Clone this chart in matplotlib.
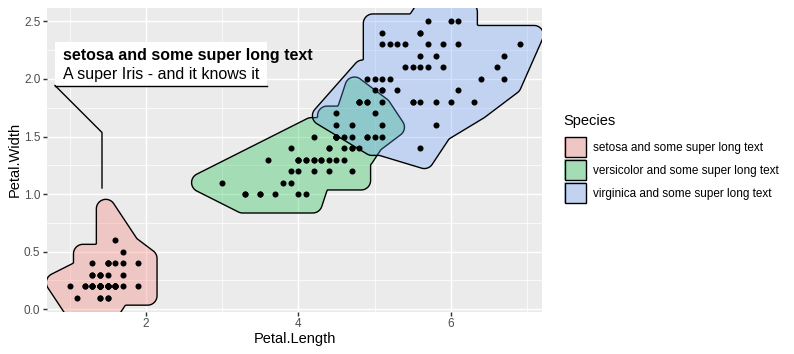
import numpy as np
import matplotlib
matplotlib.use('Agg')
import matplotlib.pyplot as plt
from matplotlib.path import Path
from matplotlib.patches import Rectangle
from collections import deque

plt.rcParams['font.family'] = ['Liberation Sans', 'DejaVu Sans']

# Datos: iris (largo y ancho del pétalo por especie)
especies = ['setosa', 'versicolor', 'virginica']
etiquetas = [e + ' and some super long text' for e in especies]
colores = ['#F8766D', '#00BA38', '#619CFF']

largo_setosa = [1.4, 1.4, 1.3, 1.5, 1.4, 1.7, 1.4, 1.5, 1.4, 1.5, 1.5, 1.6, 1.4, 1.1, 1.2, 1.5,
                1.3, 1.4, 1.7, 1.5, 1.7, 1.5, 1.0, 1.7, 1.9, 1.6, 1.6, 1.5, 1.4, 1.6, 1.6, 1.5,
                1.5, 1.4, 1.5, 1.2, 1.3, 1.4, 1.3, 1.5, 1.3, 1.3, 1.3, 1.6, 1.9, 1.4, 1.6, 1.4,
                1.5, 1.4]
ancho_setosa = [0.2, 0.2, 0.2, 0.2, 0.2, 0.4, 0.3, 0.2, 0.2, 0.1, 0.2, 0.2, 0.1, 0.1, 0.2, 0.4,
                0.4, 0.3, 0.3, 0.3, 0.2, 0.4, 0.2, 0.5, 0.2, 0.2, 0.4, 0.2, 0.2, 0.2, 0.2, 0.4,
                0.1, 0.2, 0.2, 0.2, 0.2, 0.1, 0.2, 0.2, 0.3, 0.3, 0.2, 0.6, 0.4, 0.3, 0.2, 0.2,
                0.2, 0.2]
largo_versicolor = [4.7, 4.5, 4.9, 4.0, 4.6, 4.5, 4.7, 3.3, 4.6, 3.9, 3.5, 4.2, 4.0, 4.7, 3.6, 4.4,
                    4.5, 4.1, 4.5, 3.9, 4.8, 4.0, 4.9, 4.7, 4.3, 4.4, 4.8, 5.0, 4.5, 3.5, 3.8, 3.7,
                    3.9, 5.1, 4.5, 4.5, 4.7, 4.4, 4.1, 4.0, 4.4, 4.6, 4.0, 3.3, 4.2, 4.2, 4.2, 4.3,
                    3.0, 4.1]
ancho_versicolor = [1.4, 1.5, 1.5, 1.3, 1.5, 1.3, 1.6, 1.0, 1.3, 1.4, 1.0, 1.5, 1.0, 1.4, 1.3, 1.4,
                    1.5, 1.0, 1.5, 1.1, 1.8, 1.3, 1.5, 1.2, 1.3, 1.4, 1.4, 1.7, 1.5, 1.0, 1.1, 1.0,
                    1.2, 1.6, 1.5, 1.6, 1.5, 1.3, 1.3, 1.3, 1.2, 1.4, 1.2, 1.0, 1.3, 1.2, 1.3, 1.3,
                    1.1, 1.3]
largo_virginica = [6.0, 5.1, 5.9, 5.6, 5.8, 6.6, 4.5, 6.3, 5.8, 6.1, 5.1, 5.3, 5.5, 5.0, 5.1, 5.3,
                   5.5, 6.7, 6.9, 5.0, 5.7, 4.9, 6.7, 4.9, 5.7, 6.0, 4.8, 4.9, 5.6, 5.8, 6.1, 6.4,
                   5.6, 5.1, 5.6, 6.1, 5.6, 5.5, 4.8, 5.4, 5.6, 5.1, 5.1, 5.9, 5.7, 5.2, 5.0, 5.2,
                   5.4, 5.1]
ancho_virginica = [2.5, 1.9, 2.1, 1.8, 2.2, 2.1, 1.7, 1.8, 1.8, 2.5, 2.0, 1.9, 2.1, 2.0, 2.4, 2.3,
                   1.8, 2.2, 2.3, 1.5, 2.3, 2.0, 2.0, 1.8, 2.1, 1.8, 1.8, 1.8, 2.1, 1.6, 1.9, 2.0,
                   2.2, 1.5, 1.4, 2.3, 2.4, 1.8, 1.8, 2.1, 2.4, 2.3, 1.9, 2.3, 2.5, 2.3, 1.9, 2.0,
                   2.3, 1.8]

largos = [largo_setosa, largo_versicolor, largo_virginica]
anchos = [ancho_setosa, ancho_versicolor, ancho_virginica]

# Parámetros de la envolvente (en píxeles, 96 dpi)
mm = 96 / 25.4
expand = 5 * mm
radio = 2.5 * mm
concavidad = 2.0


# ---------------- concaveman ----------------
def orient(p, q, r):
    return (q[1] - p[1]) * (r[0] - q[0]) - (q[0] - p[0]) * (r[1] - q[1])


def sq_seg_dist(p, a, b):
    x, y = a
    dx, dy = b[0] - x, b[1] - y
    if dx != 0 or dy != 0:
        t = ((p[0] - x) * dx + (p[1] - y) * dy) / (dx * dx + dy * dy)
        if t > 1:
            x, y = b
        elif t > 0:
            x += dx * t
            y += dy * t
    dx, dy = p[0] - x, p[1] - y
    return dx * dx + dy * dy


def convexa(P):
    orden = sorted(range(len(P)), key=lambda i: (P[i][0], P[i][1]))

    def cr(o, a, b):
        return (P[a][0] - P[o][0]) * (P[b][1] - P[o][1]) - (P[a][1] - P[o][1]) * (P[b][0] - P[o][0])
    inf, sup = [], []
    for i in orden:
        while len(inf) >= 2 and cr(inf[-2], inf[-1], i) <= 0:
            inf.pop()
        inf.append(i)
    for i in reversed(orden):
        while len(sup) >= 2 and cr(sup[-2], sup[-1], i) <= 0:
            sup.pop()
        sup.append(i)
    return inf[:-1] + sup[:-1]


def concaveman(P, conc=2.0):
    hull = convexa(P)
    resto = set(range(len(P))) - set(hull)
    nxt, prv = {}, {}

    def insertar(p, prev):
        if prev is None:
            nxt[p] = p
            prv[p] = p
        else:
            nxt[p] = nxt[prev]
            prv[p] = prev
            prv[nxt[prev]] = p
            nxt[prev] = p
        return p

    last = None
    cola = deque()
    for h in hull:
        last = insertar(h, last)
        cola.append(last)

    def cruzan(i1, j1, i2, j2):
        if i1 == j2 or j1 == i2:
            return False
        p1, q1, p2, q2 = P[i1], P[j1], P[i2], P[j2]
        return ((orient(p1, q1, p2) > 0) != (orient(p1, q1, q2) > 0) and
                (orient(p2, q2, p1) > 0) != (orient(p2, q2, q1) > 0))

    def sin_cruces(a, b):
        s = last
        while True:
            if cruzan(s, nxt[s], a, b):
                return False
            s = nxt[s]
            if s == last:
                return True

    def candidato(a, b, c, d, maxd):
        cands = []
        for p in resto:
            dd = sq_seg_dist(P[p], P[b], P[c])
            if dd <= maxd:
                cands.append((dd, p))
        cands.sort()
        for dd, p in cands:
            d0 = sq_seg_dist(P[p], P[a], P[b])
            d1 = sq_seg_dist(P[p], P[c], P[d])
            if dd < d0 and dd < d1 and sin_cruces(b, p) and sin_cruces(c, p):
                return p
        return None

    sqc = conc * conc
    while cola:
        nodo = cola.popleft()
        a, b = nodo, nxt[nodo]
        sqlen = (P[a][0] - P[b][0]) ** 2 + (P[a][1] - P[b][1]) ** 2
        maxd = sqlen / sqc
        p = candidato(prv[a], a, b, nxt[b], maxd)
        if p is not None:
            da = (P[p][0] - P[a][0]) ** 2 + (P[p][1] - P[a][1]) ** 2
            db = (P[p][0] - P[b][0]) ** 2 + (P[p][1] - P[b][1]) ** 2
            if min(da, db) <= maxd:
                cola.append(nodo)
                cola.append(insertar(p, nodo))
                resto.discard(p)
    out = []
    s = last
    while True:
        out.append(P[s])
        s = nxt[s]
        if s == last:
            break
    return np.array(out)


# ---------------- expansión con esquinas redondeadas ----------------
def dist_segmentos(px, py, segs):
    d2 = np.full(px.shape, np.inf)
    for x0, y0, x1, y1 in segs:
        dx, dy = x1 - x0, y1 - y0
        l2 = dx * dx + dy * dy
        if l2 == 0:
            t = 0.0
        else:
            t = np.clip(((px - x0) * dx + (py - y0) * dy) / l2, 0, 1)
        ex = px - (x0 + t * dx)
        ey = py - (y0 + t * dy)
        d2 = np.minimum(d2, ex * ex + ey * ey)
    return np.sqrt(d2)


def campo_envolvente(H, a, r, paso=1.0):
    # orientación antihoraria
    area = np.sum(H[:, 0] * np.roll(H[:, 1], -1) - np.roll(H[:, 0], -1) * H[:, 1])
    if area < 0:
        H = H[::-1]
    k = len(H)
    d = np.roll(H, -1, axis=0) - H
    L = np.hypot(d[:, 0], d[:, 1])
    n = np.column_stack([d[:, 1], -d[:, 0]]) / L[:, None]
    polys = [H]
    for i in range(k):
        v0, v1 = H[i], H[(i + 1) % k]
        polys.append(np.array([v0, v1, v1 + a * n[i], v0 + a * n[i]]))
    for i in range(k):
        n1, n2 = n[i - 1], n[i]
        cr = d[i - 1, 0] * d[i, 1] - d[i - 1, 1] * d[i, 0]
        if cr > 0:
            m = H[i] + a * (n1 + n2) / (1 + n1 @ n2)
            polys.append(np.array([H[i], H[i] + a * n1, m, H[i] + a * n2]))
    todos = np.vstack(polys)
    lo = todos.min(0) - r - 6
    hi = todos.max(0) + r + 6
    gx = np.arange(lo[0], hi[0], paso)
    gy = np.arange(lo[1], hi[1], paso)
    GX, GY = np.meshgrid(gx, gy)
    pts = np.column_stack([GX.ravel(), GY.ravel()])
    dentro = np.zeros(len(pts), bool)
    segs = []
    for poly in polys:
        dentro |= Path(poly).contains_points(pts)
        for j in range(len(poly)):
            p0, p1 = poly[j], poly[(j + 1) % len(poly)]
            segs.append((p0[0], p0[1], p1[0], p1[1]))
    dist = dist_segmentos(pts[:, 0], pts[:, 1], segs)
    dist[dentro] = 0
    return gx, gy, (dist - r).reshape(GX.shape)


# ---------------- figura ----------------
W, Hh = 794, 354
fig = plt.figure(figsize=(W / 100, Hh / 100), dpi=100)
ax_l, ax_r, ax_t, ax_b = 47, 542, 7.5, 311.6
ax = fig.add_axes([ax_l / W, (Hh - ax_b) / Hh, (ax_r - ax_l) / W, (ax_b - ax_t) / Hh])
ax.set_xlim(0.705, 7.195)
ax.set_ylim(-0.02, 2.62)
ax.set_facecolor('#EBEBEB')
for s in ax.spines.values():
    s.set_visible(False)

ax.set_xticks([2, 4, 6])
ax.set_xticklabels(['2', '4', '6'])
ax.set_xticks([1, 3, 5, 7], minor=True)
ax.set_yticks([0, 0.5, 1.0, 1.5, 2.0, 2.5])
ax.set_yticklabels(['0.0', '0.5', '1.0', '1.5', '2.0', '2.5'])
ax.set_yticks([0.25, 0.75, 1.25, 1.75, 2.25], minor=True)
ax.grid(which='major', color='white', linewidth=1.02)
ax.grid(which='minor', color='white', linewidth=0.51)
ax.set_axisbelow(True)
ax.tick_params(which='major', length=2.64, width=1.02, color='#333333',
               labelcolor='#4D4D4D', labelsize=8.45, pad=2.1)
ax.tick_params(which='minor', length=0)

inv = ax.transData.inverted()
for i, (xs, ys) in enumerate(zip(largos, anchos)):
    datos = np.column_stack([xs, ys])
    pix = ax.transData.transform(np.unique(datos, axis=0))
    H = concaveman([tuple(p) for p in pix], concavidad)
    gx, gy, F = campo_envolvente(H, expand - radio, radio)
    xd = inv.transform(np.column_stack([gx, np.full_like(gx, 100.0)]))[:, 0]
    yd = inv.transform(np.column_stack([np.full_like(gy, 100.0), gy]))[:, 1]
    ax.contourf(xd, yd, F, levels=[F.min() - 1, 0], colors=[colores[i]], alpha=0.3,
                zorder=1 + i, antialiased=True)
    ax.contour(xd, yd, F, levels=[0], colors='black', linewidths=1.0, zorder=1.5 + i)

for xs, ys in zip(largos, anchos):
    ax.scatter(xs, ys, s=19, color='black', linewidths=0, zorder=10)

# Ejes
ax.set_xlabel('Petal.Length', fontsize=10.56, color='black')
ax.xaxis.label.set_va('baseline')
ax.xaxis.set_label_coords(0.5, (ax_b - 343) / (ax_b - ax_t))
ax.set_ylabel('Petal.Width', fontsize=10.56, color='black', rotation_mode='anchor',
              va='baseline', ha='center')
ax.yaxis.set_label_coords((18.5 - ax_l) / (ax_r - ax_l), 0.5)


# Etiqueta de setosa
def fx(px):
    return (px - ax_l) / (ax_r - ax_l)


def fy(py):
    return (ax_b - py) / (ax_b - ax_t)


caja = Rectangle((fx(55), fy(85.5)), fx(267) - fx(55), fy(42) - fy(85.5), transform=ax.transAxes,
                 facecolor='white', edgecolor='none', zorder=20, clip_on=False)
ax.add_patch(caja)
ax.text(fx(63), fy(60), etiquetas[0], transform=ax.transAxes, fontsize=11.52,
        fontweight='bold', va='baseline', ha='left', zorder=21, clip_on=False)
ax.text(fx(63), fy(78.5), 'A super Iris - and it knows it', transform=ax.transAxes,
        fontsize=11.52, va='baseline', ha='left', zorder=21, clip_on=False)
ax.plot([fx(55), fx(267)], [fy(85.5), fy(85.5)], transform=ax.transAxes, color='black',
        lw=1.0, zorder=22, clip_on=False)
ax.plot([fx(55), fx(102), fx(102)], [fy(85.5), fy(132.5), fy(188)], transform=ax.transAxes,
        color='black', lw=1.0, zorder=22, clip_on=False)

# Leyenda
fig.text(563 / W, 1 - 125.5 / Hh, 'Species', fontsize=10.56, va='baseline', ha='left')
for i, lab in enumerate(etiquetas):
    y0 = 136.5 + i * 22.8
    fig.patches.append(Rectangle((564 / W, 1 - (y0 + 21) / Hh), 22 / W, 21 / Hh,
                                 transform=fig.transFigure, facecolor='#EBEBEB',
                                 edgecolor='none'))
    fig.patches.append(Rectangle((564 / W, 1 - (y0 + 21) / Hh), 22 / W, 21 / Hh,
                                 transform=fig.transFigure, facecolor=colores[i], alpha=0.3,
                                 edgecolor='none'))
    fig.patches.append(Rectangle((564.5 / W, 1 - (y0 + 20.5) / Hh), 21 / W, 20 / Hh,
                                 transform=fig.transFigure, facecolor='none',
                                 edgecolor='black', lw=1.0))
    fig.text(593 / W, 1 - (y0 + 10.5) / Hh, lab, fontsize=8.45, va='center_baseline', ha='left')

fig.savefig('out.png', dpi=100)
